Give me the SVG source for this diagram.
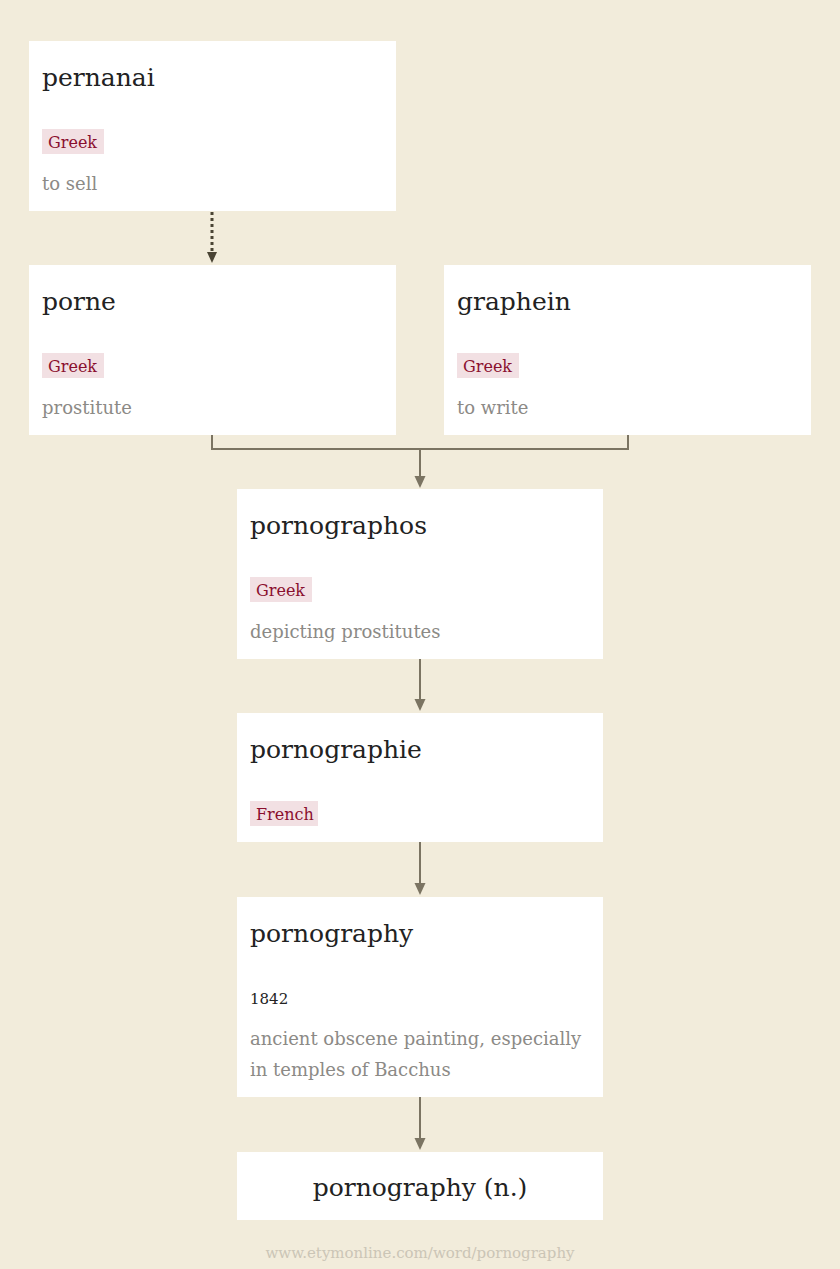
<svg xmlns="http://www.w3.org/2000/svg" width="840" height="1269" viewBox="0 0 840 1269">
<defs>
<marker id="ah" viewBox="0 0 10 10" refX="10" refY="5" markerWidth="10" markerHeight="10" markerUnits="userSpaceOnUse" orient="auto">
<path d="M0,0 L10,5 L0,10 z" fill="#7b7462"/>
</marker>
<marker id="ahd" viewBox="0 0 10 10" refX="10" refY="5" markerWidth="10" markerHeight="10" markerUnits="userSpaceOnUse" orient="auto">
<path d="M0,0 L10,5 L0,10 z" fill="#4a4434"/>
</marker>
<style>
.box{fill:#ffffff}
.title{font-family:"DejaVu Serif","Liberation Serif",serif;font-size:25px;fill:#222222}
.tagbg{fill:#f2e0e3}
.tag{font-family:"DejaVu Serif","Liberation Serif",serif;font-size:16px;fill:#8a0f2e}
.gloss{font-family:"DejaVu Serif","Liberation Serif",serif;font-size:18px;fill:#8c8a86}
.date{font-family:"DejaVu Serif","Liberation Serif",serif;font-size:15px;fill:#222222}
.conn{fill:none;stroke:#7b7462;stroke-width:2}
.dot{fill:none;stroke:#4a4434;stroke-width:3;stroke-dasharray:3 3}
.foot{font-family:"DejaVu Serif","Liberation Serif",serif;font-size:15px;fill:#cbc5b6}
</style>
</defs>
<rect width="840" height="1269" fill="#f2ecdb"/>
<g id="connectors">
<path class="dot" d="M212,212 V252"/>
<path d="M212,263 l-5,-11 h10 z" fill="#4a4434"/>
<path class="conn" d="M212,435 V449 H628 V435"/>
<path class="conn" d="M420,449 V477"/>
<path d="M420,488 l-5.5,-12 h11 z" fill="#7b7462"/>
<path class="conn" d="M420,659 V700"/>
<path d="M420,711 l-5.5,-12 h11 z" fill="#7b7462"/>
<path class="conn" d="M420,842 V884"/>
<path d="M420,895 l-5.5,-12 h11 z" fill="#7b7462"/>
<path class="conn" d="M420,1097 V1139"/>
<path d="M420,1150 l-5.5,-12 h11 z" fill="#7b7462"/>
</g>
<g id="pernanai">
<rect class="box" x="29" y="41" width="367" height="170"/>
<text class="title" x="42" y="86">pernanai</text>
<rect class="tagbg" x="42" y="129" width="62" height="25"/>
<text class="tag" x="48" y="148">Greek</text>
<text class="gloss" x="42" y="190">to sell</text>
</g>
<g id="porne">
<rect class="box" x="29" y="265" width="367" height="170"/>
<text class="title" x="42" y="310">porne</text>
<rect class="tagbg" x="42" y="353" width="62" height="25"/>
<text class="tag" x="48" y="372">Greek</text>
<text class="gloss" x="42" y="414">prostitute</text>
</g>
<g id="graphein">
<rect class="box" x="444" y="265" width="367" height="170"/>
<text class="title" x="457" y="310">graphein</text>
<rect class="tagbg" x="457" y="353" width="62" height="25"/>
<text class="tag" x="463" y="372">Greek</text>
<text class="gloss" x="457" y="414">to write</text>
</g>
<g id="pornographos">
<rect class="box" x="237" y="489" width="366" height="170"/>
<text class="title" x="250" y="534">pornographos</text>
<rect class="tagbg" x="250" y="577" width="62" height="25"/>
<text class="tag" x="256" y="596">Greek</text>
<text class="gloss" x="250" y="638">depicting prostitutes</text>
</g>
<g id="pornographie">
<rect class="box" x="237" y="713" width="366" height="129"/>
<text class="title" x="250" y="758">pornographie</text>
<rect class="tagbg" x="250" y="801" width="68" height="25"/>
<text class="tag" x="256" y="820">French</text>
</g>
<g id="pornography">
<rect class="box" x="237" y="897" width="366" height="200"/>
<text class="title" x="250" y="942">pornography</text>
<text class="date" x="250" y="1004">1842</text>
<text class="gloss" x="250" y="1045">ancient obscene painting, especially</text>
<text class="gloss" x="250" y="1076">in temples of Bacchus</text>
</g>
<g id="pornography-n">
<rect class="box" x="237" y="1152" width="366" height="68"/>
<text class="title" x="420" y="1196" text-anchor="middle">pornography (n.)</text>
</g>
<text class="foot" x="420" y="1258" text-anchor="middle">www.etymonline.com/word/pornography</text>
</svg>
